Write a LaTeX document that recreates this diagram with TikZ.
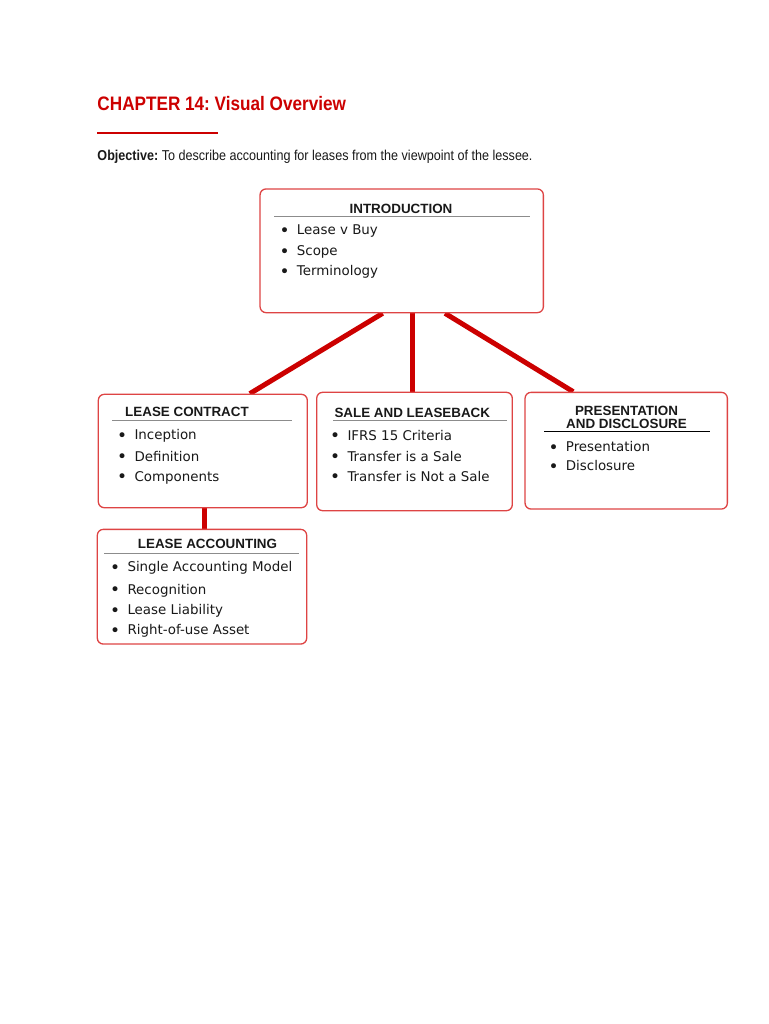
\documentclass[tikz,border=0pt]{standalone}
\usepackage{fontspec}
\setmainfont{Liberation Sans}
\newfontfamily\verdana{DejaVu Sans}
\usetikzlibrary{backgrounds}
\definecolor{chapred}{HTML}{CC0000}
\definecolor{boxred}{HTML}{DE4444}
\tikzstyle{box} = [draw=boxred, line width=1.3pt, rounded corners=6pt, fill=white, inner sep=0pt]
\tikzstyle{head} = [font={\fontsize{13.4}{13.7}\selectfont\bfseries}, inner sep=0pt, anchor=base, text=black!90]
\tikzstyle{item} = [font={\verdana\fontsize{13.4}{16}\selectfont}, inner sep=0pt, anchor=base west, text=black!90]
\tikzstyle{link} = [draw=chapred, line width=5pt]
\tikzstyle{rule} = [draw=black!45, line width=1pt]
\newcommand{\bul}{\makebox[16.3pt][l]{\hspace{-1pt}\raisebox{-1.8pt}{\fontsize{17}{16}\selectfont\textbullet}}}
\frenchspacing

\begin{document}
\begin{tikzpicture}[x=1pt, y=-1pt]
        \useasboundingbox (0,0) rectangle (768,1024);
        \fill[chapred] (96.7,132.5) rectangle (217.7,134.1);
        \node[font={\fontsize{19.5}{22}\selectfont\bfseries}, text=chapred, inner sep=0pt, anchor=base west, xscale=0.88](title) at (97.3,110.7){CHAPTER 14: Visual Overview};
        \node[font={\fontsize{14.3}{16}\selectfont}, text=black!90, inner sep=0pt, anchor=base west, xscale=0.88](obj) at (97.3,161){\textbf{Objective:} To describe accounting for leases from the viewpoint of the lessee.};
        \node[box, minimum width=283.3pt, minimum height=123.7pt](intro) at (401.7,250.8){};
        \node[box, minimum width=209pt, minimum height=113.4pt](lc) at (202.8,451){};
        \node[box, minimum width=195.6pt, minimum height=118.4pt](sl) at (414.5,451.5){};
        \node[box, minimum width=202.3pt, minimum height=116.7pt](pd) at (626.2,450.7){};
        \node[box, minimum width=209.4pt, minimum height=114.7pt](la) at (202,586.7){};
        \node[head](introh) at (401,213.3){INTRODUCTION};
        \draw[rule] (274,217) -- (530,217);
        \node[item](intro1) at (280.4,235){\bul Lease v Buy};
        \node[item](intro2) at (280.4,255.5){\bul Scope};
        \node[item](intro3) at (280.4,275.5){\bul Terminology};
        \node[head, anchor=base west](lch) at (125,416){LEASE CONTRACT};
        \draw[rule] (112,420) -- (292,420);
        \node[item](lc1) at (118,439.3){\bul Inception};
        \node[item](lc2) at (118,461){\bul Definition};
        \node[item](lc3) at (118,481){\bul Components};
        \node[head, anchor=base west](slh) at (334.3,417.3){SALE AND LEASEBACK};
        \draw[rule] (333,420.7) -- (506.7,420.7);
        \node[item](sl1) at (331,440){\bul IFRS 15 Criteria};
        \node[item](sl2) at (331,461){\bul Transfer is a Sale};
        \node[item](sl3) at (331,481){\bul Transfer is Not a Sale};
        \node[head, align=center](pdh) at (626.5,428.7){PRESENTATION\\AND DISCLOSURE};
        \draw[black, line width=1.3pt] (544,431.3) -- (710,431.3);
        \node[item](pd1) at (549.4,451.7){\bul Presentation};
        \node[item](pd2) at (549.4,470.7){\bul Disclosure};
        \node[head](lah) at (207.5,548.3){LEASE ACCOUNTING};
        \draw[rule] (104,553.3) -- (298.7,553.3);
        \node[item](la1) at (111,571.7){\bul Single Accounting Model};
        \node[item](la2) at (111,594){\bul Recognition};
        \node[item](la3) at (111,614.3){\bul Lease Liability};
        \node[item](la4) at (111,634.3){\bul Right-of-use Asset};
        \begin{scope}[on background layer]
          \fill[white] (0,0) rectangle (768,1024);
          \draw[link]([xshift=-19pt]intro.south)--([xshift=47pt]lc.north);
          \draw[link]([xshift=10.6pt]intro.south)--([xshift=-2.2pt]sl.north);
          \draw[link]([xshift=43.3pt]intro.south)--([xshift=-53pt]pd.north);
          \draw[link]([xshift=1.2pt]lc.south)--([xshift=2pt]la.north);
        \end{scope}
      \end{tikzpicture}
\end{document}
